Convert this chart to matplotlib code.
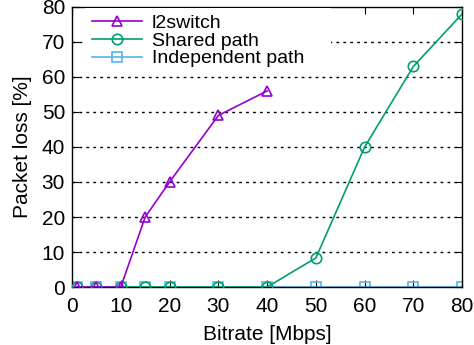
import matplotlib.pyplot as plt

plt.rcParams['font.family'] = ['Liberation Sans', 'DejaVu Sans']

bitrate = [1, 5, 10, 15, 20, 30, 40, 50, 60, 70, 80]
l2switch_x = [1, 5, 10, 15, 20, 30, 40]
l2switch = [0, 0, 0, 20, 30, 49, 56]
shared = [0, 0, 0, 0, 0, 0, 0, 8.3, 40, 63, 78]
independent = [0, 0, 0, 0, 0, 0, 0, 0, 0, 0, 0]

fig = plt.figure(figsize=(4.74, 3.45), dpi=100)
ax = fig.add_axes([0.152, 0.168, 0.823, 0.812])

ax.plot(l2switch_x, l2switch, color='#9400D3', marker='^', mfc='none', ms=7.5,
        mew=1.2, lw=1.2, label='l2switch', zorder=4)
ax.plot(bitrate, shared, color='#009E73', marker='o', mfc='none', ms=7.5,
        mew=1.2, lw=1.2, label='Shared path', zorder=3)
ax.plot(bitrate, independent, color='#56B4E9', marker='s', mfc='none', ms=7.5,
        mew=1.2, lw=1.2, label='Independent path', zorder=2)

ax.set_xlim(0, 80)
ax.set_ylim(0, 80)
ax.set_xticks(range(0, 81, 10))
ax.set_yticks(range(0, 81, 10))
for y in range(10, 80, 10):
    ax.axhline(y, color='black', lw=1, ls=(0, (2, 3)), zorder=1)

ax.tick_params(direction='in', top=True, right=True, labelsize=15, length=5)
ax.tick_params(axis='x', pad=7)
ax.tick_params(axis='y', pad=5)
for s in ax.spines.values():
    s.set_linewidth(1)

ax.set_xlabel('Bitrate [Mbps]', fontsize=15, labelpad=7)
ax.set_ylabel('Packet loss [%]', fontsize=15, labelpad=7)

leg = ax.legend(loc='upper left', bbox_to_anchor=(0.033, 0.997, 0.63, 0),
                mode='expand', fontsize=14, frameon=True, fancybox=False,
                borderaxespad=0, handlelength=2.6, handletextpad=0.5,
                labelspacing=0.0, borderpad=0.35)
leg.get_frame().set_edgecolor('none')
leg.get_frame().set_facecolor('white')
leg.get_frame().set_alpha(1)
leg.set_zorder(5)

fig.savefig('out.png', dpi=100)
